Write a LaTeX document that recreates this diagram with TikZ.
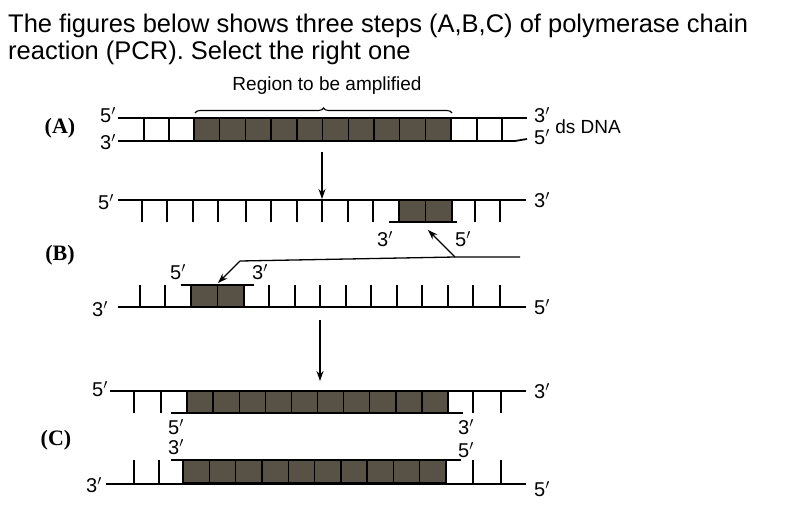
\documentclass[tikz,border=0pt]{standalone}
\usepackage{fontspec}
\setmainfont{Liberation Sans}
\newfontfamily\serifb{Liberation Serif}
\usetikzlibrary{decorations.pathreplacing,arrows.meta}
\definecolor{shade}{RGB}{88,82,70}
\tikzset{
  strand/.style={line width=1.8pt},
  tick/.style={line width=1.4pt},
  box/.style={fill=shade,draw=black,line width=1.4pt},
  lbl/.style={font=\fontsize{20}{20}\selectfont,inner sep=0pt},
  step lbl/.style={font=\serifb\bfseries\fontsize{22}{22}\selectfont,inner sep=0pt},
  arr/.style={line width=1.3pt,-{Stealth[length=10pt,width=7pt]}}
}
\begin{document}
\begin{tikzpicture}[x=1pt,y=-1pt]
\useasboundingbox (0,0) rectangle (800,514);
\node[anchor=west,inner sep=0pt,align=left,font=\fontsize{25.5}{27}\selectfont] (title) at (8,39)
 {The figures below shows three steps (A,B,C) of polymerase chain\\reaction (PCR). Select the right one};
% ---------- A ----------
\node[step lbl] (la) at (60,128) {(A)};
\draw[strand] (118,118) -- (527,118);
\draw[strand] (118,141) -- (515,141) -- (527,139);
\foreach \x in {144,169,477,502} \draw[tick] (\x,118) -- (\x,141);
\foreach \i in {0,...,9} \draw[box] (194+25.7*\i,118) rectangle ++(25.7,23);
\draw[line width=1.1pt,decorate,decoration={brace,amplitude=5pt}] (195,113) -- (452,113);
\node[lbl,font=\fontsize{19}{19}\selectfont] (reg) at (327,86) {Region to be amplified};
\node[lbl] at (108,115) {5$'$};
\node[lbl] at (108,142) {3$'$};
\node[lbl] at (542,115) {3$'$};
\node[lbl] at (542,137) {5$'$};
\node[lbl,font=\fontsize{19}{19}\selectfont] (ds) at (588,127) {ds DNA};
\coordinate (a1s) at (322,152); \coordinate (a1e) at (322,199);
\draw[arr] (a1s) -- (a1e);
% ---------- B ----------
\node[step lbl] (lb) at (60,255) {(B)};
\draw[strand] (118,200) -- (526,200);
\foreach \x in {142,167,193,218,246,271,297,322,348,373,475,500} \draw[tick] (\x,200) -- (\x,222);
\foreach \i in {0,1} \draw[box] (399+26.5*\i,200) rectangle ++(26.5,22);
\draw[strand] (389,222) -- (457,222);
\node[lbl] at (106,202) {5$'$};
\node[lbl] at (542,200) {3$'$};
\node[lbl] at (385,239) {3$'$};
\node[lbl] at (463,239) {5$'$};
\coordinate (ls) at (520,257); \coordinate (lj) at (455,257); \coordinate (lk) at (240,261);
\coordinate (p1) at (428,230); \coordinate (p2) at (218,283);
\draw[line width=1.3pt] (ls) -- (lj) -- (lk);
\draw[arr] (lj) -- (p1);
\draw[arr] (lk) -- (p2);
\draw[strand] (118,307) -- (526,307);
\foreach \x in {140,165,269,295,320,346,371,397,422,448,473,500} \draw[tick] (\x,285) -- (\x,307);
\foreach \i in {0,1} \draw[box] (191+26.5*\i,285) rectangle ++(26.5,22);
\draw[strand] (181,285) -- (254,285);
\node[lbl] at (178,272) {5$'$};
\node[lbl] at (260,272) {3$'$};
\node[lbl] at (100,309) {3$'$};
\node[lbl] at (542,307) {5$'$};
\coordinate (a2s) at (320,320); \coordinate (a2e) at (320,381);
\draw[arr] (a2s) -- (a2e);
% ---------- C ----------
\node[step lbl] (lc) at (56,440) {(C)};
\draw[strand] (110,391) -- (526,391);
\foreach \x in {134,161,473,501} \draw[tick] (\x,391) -- (\x,413);
\foreach \i in {0,...,9} \draw[box] (187+26.1*\i,391) rectangle ++(26.1,22);
\draw[strand] (171,413) -- (463,413);
\node[lbl] at (100,389) {5$'$};
\node[lbl] at (542,391) {3$'$};
\node[lbl] at (176,427) {5$'$};
\node[lbl] at (466,427) {3$'$};
\node[lbl] at (176,447) {3$'$};
\node[lbl] at (466,450) {5$'$};
\draw[strand] (171,460) -- (461,460);
\foreach \x in {134,159,473,501} \draw[tick] (\x,460) -- (\x,483);
\foreach \i in {0,...,9} \draw[box] (183+26.3*\i,460) rectangle ++(26.3,23);
\draw[strand] (106,484) -- (526,484);
\node[lbl] at (94,485) {3$'$};
\node[lbl] at (542,489) {5$'$};
\end{tikzpicture}
\end{document}
